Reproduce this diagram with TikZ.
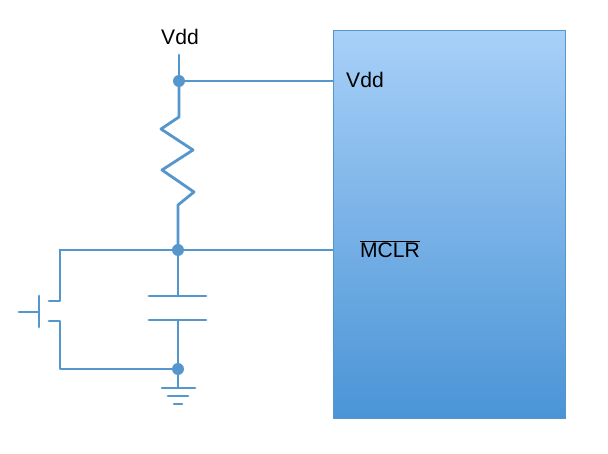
\documentclass[tikz,border=0pt]{standalone}
\usepackage{fontspec}
\setmainfont{Liberation Sans}
\usepackage{tikz}
\usetikzlibrary{calc}
\definecolor{wire}{HTML}{5596CC}
\definecolor{chiptop}{HTML}{A8D0F8}
\definecolor{chipbot}{HTML}{4A94D6}
\tikzset{
  w/.style={line width=2pt,draw=wire,line cap=round,line join=round},
  dot/.style={circle,fill=wire,inner sep=0pt,minimum size=8.5pt},
  lbl/.style={font=\fontsize{15}{17}\selectfont,inner sep=1pt}
}
\begin{document}
\begin{tikzpicture}[x=0.025cm,y=-0.025cm]
\useasboundingbox(0,0)rectangle(608,454);
%chip
\draw[draw=wire,top color=chiptop,bottom color=chipbot](333,30)rectangle(565,418);
\node[lbl](vddin)at(365,80){Vdd};
\node[lbl](mclr)at(390,249){$\overline{\mbox{MCLR}}$};
%supply
\node[lbl](vdd)at(180,37){Vdd};
\coordinate(top)at(179,55);
\coordinate(n1)at(179,81);
\coordinate(pin1)at(333,81);
\draw[w](top)--(n1)--(pin1);
%resistor
\coordinate(n2)at(178,250);
\draw[w](n1)--(179,117)--(161,129)--(193,150)--(162,170)--(194,192)--(178,205)--(n2);
%mclr line
\coordinate(sw1)at(60,250);
\coordinate(pin2)at(333,250);
\draw[w](sw1)--(pin2);
%capacitor
\coordinate(n3)at(178,369);
\draw[w](n2)--(178,296);
\draw[w](149,296)--(206,296);
\draw[w](149,320)--(206,320);
\draw[w](178,320)--(n3);
%ground
\draw[w](n3)--(178,388);
\draw[w](162,388)--(195,388);
\draw[w](168,396)--(188,396);
\draw[w](174,404)--(182,404);
%push button
\coordinate(sw2)at(60,369);
\draw[w](sw1)--(60,301)--(49,301);
\draw[w](49,321)--(60,321)--(sw2)--(n3);
\draw[w](39,296)--(39,327);
\draw[w](19,312)--(39,312);
%junctions
\foreach \p in {n1,n2,n3}
  \node[dot]at(\p){};
\end{tikzpicture}
\end{document}
